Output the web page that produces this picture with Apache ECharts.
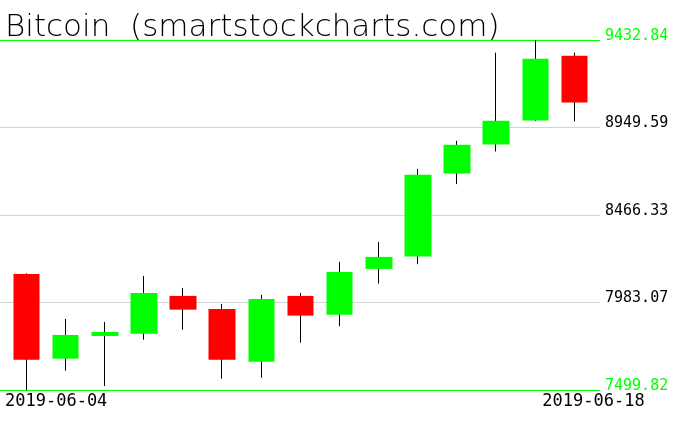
<!DOCTYPE html>
<html><head><meta charset="utf-8">
<script src="https://cdn.jsdelivr.net/npm/echarts@6/dist/echarts.min.js"></script>
<style>html,body{margin:0;padding:0;background:#fff}#c{width:676px;height:431px}</style>
</head><body><div id="c"></div>
<script>
const categories = ['2019-06-04','2019-06-05','2019-06-06','2019-06-07','2019-06-08','2019-06-09','2019-06-10','2019-06-11','2019-06-12','2019-06-13','2019-06-14','2019-06-15','2019-06-16','2019-06-17','2019-06-18'];
const openVals  = [8141.1, 7672.8, 7798.3, 7811.1, 8019.5, 7947.6, 7656.3, 8019.5, 7916.1, 8168.7, 8236.7, 8695.5, 8855.8, 8988.5, 9346.2];
const closeVals = [7667.3, 7803.9, 7820.4, 8036.0, 7943.7, 7667.3, 8002.9, 7910.6, 8152.1, 8235.1, 8688.4, 8854.2, 8986.9, 9329.6, 9088.0];
const lowVals   = [7499.82, 7606.5, 7521.9, 7777.9, 7833.2, 7562.3, 7567.8, 7761.3, 7852.0, 8087.5, 8194.7, 8636.9, 8817.2, 8985.0, 8983.0];
const highVals  = [8143.9, 7892.3, 7875.7, 8130.0, 8063.7, 7975.2, 8025.0, 8036.0, 8207.4, 8318.0, 8721.5, 8876.3, 9362.8, 9432.84, 9362.8];
const yTickLabels = ['7499.82','7983.07','8466.33','8949.59','9432.84'];
const yMin = 7499.82, yMax = 9432.84;
const xMin = -0.677, xMax = 14.652;

const wickData = categories.map((c, i) => [i, openVals[i], closeVals[i], lowVals[i], highVals[i]]);
const bodyData = categories.map((c, i) => [i, openVals[i], closeVals[i], Math.min(openVals[i], closeVals[i]), Math.max(openVals[i], closeVals[i])]);
const yInt = (yMax - yMin) / 4;
const GREEN = '#00ff00', RED = '#ff0000';

const chart = echarts.init(document.getElementById('c'), null, {renderer: 'canvas'});
chart.setOption({
  animation: false,
  backgroundColor: '#ffffff',
  title: {
    text: 'Bitcoin  (smartstockcharts.com)', left: 5, top: 12, padding: 0,
    textStyle: {fontFamily: 'DejaVu Sans', fontWeight: 200, fontSize: 31, color: '#000'}
  },
  grid: {left: 0, right: 76, top: 40, bottom: 41, containLabel: false},
  xAxis: {
    type: 'value', min: xMin, max: xMax,
    axisLine: {show: false}, axisTick: {show: false}, splitLine: {show: false},
    axisLabel: {
      showMinLabel: true, showMaxLabel: true, alignMinLabel: 'left', alignMaxLabel: 'center',
      margin: 3, fontFamily: 'DejaVu Sans Mono', fontSize: 17, color: '#000',
      formatter: function (v) {
        if (v <= xMin + 1e-6) return '{a|' + categories[0] + '}';
        if (v >= xMax - 1e-6) return '{b|' + categories[categories.length - 1] + '}';
        return '';
      },
      rich: {
        a: {fontFamily: 'DejaVu Sans Mono', fontSize: 17, color: '#000', padding: [0, 0, 0, 5]},
        b: {fontFamily: 'DejaVu Sans Mono', fontSize: 17, color: '#000', padding: [0, 13, 0, 0]}
      }
    }
  },
  yAxis: {
    type: 'value', position: 'right', min: yMin, max: yMax, interval: yInt,
    axisLine: {show: false}, axisTick: {show: false},
    splitLine: {show: true, showMinLine: true, showMaxLine: true, lineStyle: {color: [GREEN, '#d3d3d3', '#d3d3d3', '#d3d3d3'], width: 1}},
    axisLabel: {
      margin: 5, fontFamily: 'DejaVu Sans Mono', fontSize: 15, lineHeight: 8, verticalAlign: 'bottom',
      showMinLabel: true, showMaxLabel: true,
      formatter: function (v) {
        const idx = Math.round((v - yMin) / yInt);
        return yTickLabels[idx] !== undefined ? yTickLabels[idx] : '';
      },
      color: function (v) {
        const idx = Math.round((v - yMin) / yInt);
        return (idx === 0 || idx === yTickLabels.length - 1) ? GREEN : '#000';
      }
    }
  },
  series: [
    {
      type: 'candlestick', name: 'wick', data: wickData, barWidth: 1, z: 2,
      itemStyle: {color: '#000', color0: '#000', borderColor: '#000', borderColor0: '#000', borderColorDoji: '#000', borderWidth: 1}
    },
    {
      type: 'candlestick', name: 'body', data: bodyData, barWidth: 27, z: 3,
      itemStyle: {color: GREEN, color0: RED, borderColor: GREEN, borderColor0: RED, borderWidth: 0}
    }
  ]
});
</script>
</body></html>
